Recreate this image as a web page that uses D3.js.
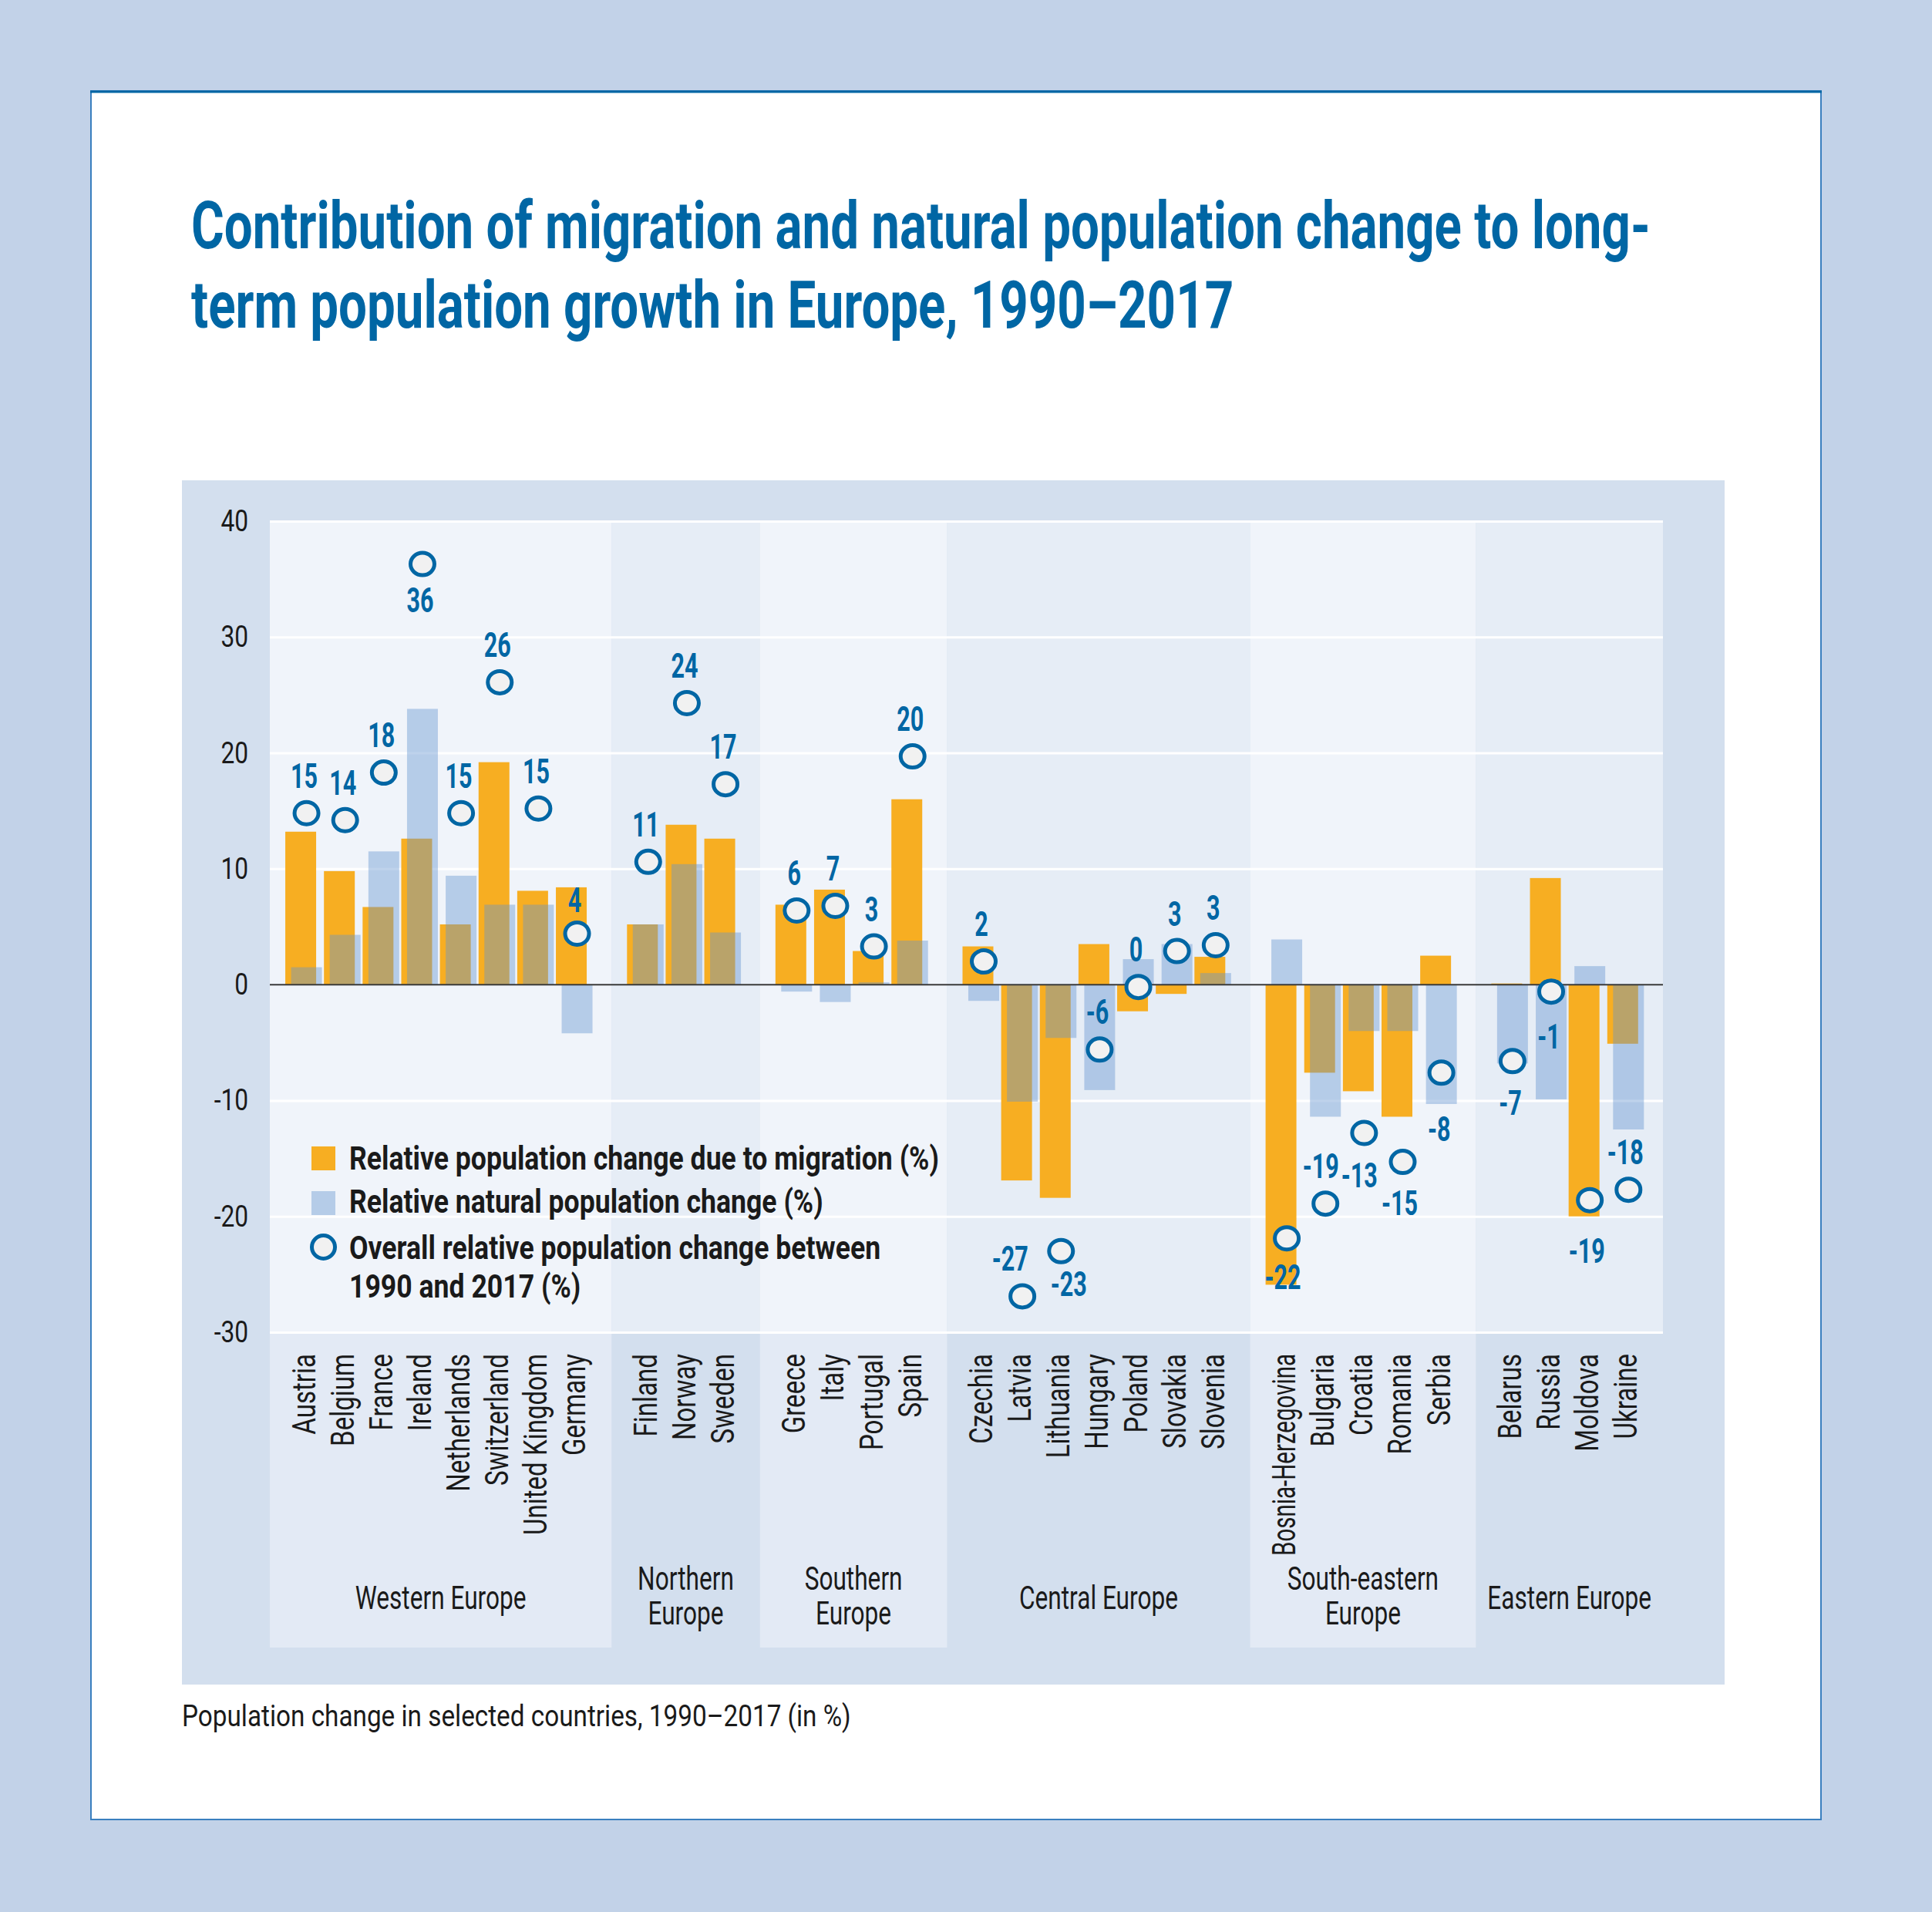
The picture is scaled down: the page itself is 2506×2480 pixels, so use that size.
<!DOCTYPE html>
<html><head><meta charset="utf-8">
<script src="https://cdn.jsdelivr.net/npm/d3@7"></script>
<style>
html,body{margin:0;padding:0;background:#C2D2E8;}
svg{display:block;}
</style></head><body>
<svg id="chart" width="2506" height="2480"></svg>
<script>
// ---------------- DATA ----------------
const groups = ["Western Europe","Northern Europe","Southern Europe","Central Europe","South-eastern Europe","Eastern Europe"];
const groupLabelLines = [["Western Europe"],["Northern","Europe"],["Southern","Europe"],["Central Europe"],["South-eastern","Europe"],["Eastern Europe"]];
const countries = ["Austria","Belgium","France","Ireland","Netherlands","Switzerland","United Kingdom","Germany",
  "Finland","Norway","Sweden",
  "Greece","Italy","Portugal","Spain",
  "Czechia","Latvia","Lithuania","Hungary","Poland","Slovakia","Slovenia",
  "Bosnia-Herzegovina","Bulgaria","Croatia","Romania","Serbia",
  "Belarus","Russia","Moldova","Ukraine"];
const countryGroup = [0,0,0,0,0,0,0,0, 1,1,1, 2,2,2,2, 3,3,3,3,3,3,3, 4,4,4,4,4, 5,5,5,5];
// Relative population change due to migration (%)
const migration = [13.2,9.8,6.7,12.6,5.2,19.2,8.1,8.4, 5.2,13.8,12.6, 6.9,8.2,2.9,16.0,
  3.3,-16.9,-18.4,3.5,-2.3,-0.8,2.4, -25.9,-7.6,-9.2,-11.4,2.5, 0.1,9.2,-20.0,-5.1];
// Relative natural population change (%)
const natural = [1.5,4.3,11.5,23.8,9.4,6.9,6.9,-4.2, 5.2,10.4,4.5, -0.6,-1.5,0.2,3.8,
  -1.4,-10.1,-4.6,-9.1,2.2,3.5,1.0, 3.9,-11.4,-4.0,-4.0,-10.3, -6.8,-9.9,1.6,-12.5];
// Overall relative population change 1990-2017 (%)
const overall = [14.8,14.2,18.3,36.3,14.8,26.1,15.2,4.4, 10.6,24.3,17.3, 6.4,6.8,3.3,19.7,
  2.0,-26.9,-23.0,-5.6,-0.2,2.9,3.4, -21.9,-18.9,-12.8,-15.3,-7.6, -6.6,-0.6,-18.6,-17.7];
const yTicks = [40,30,20,10,0,-10,-20,-30];
const titleLines = ["Contribution of migration and natural population change to long-","term population growth in Europe, 1990\u20132017"];
const legendItems = ["Relative population change due to migration (%)","Relative natural population change (%)"];
const legendCircleLines = ["Overall relative population change between","1990 and 2017 (%)"];
const caption = "Population change in selected countries, 1990\u20132017 (in %)";

// label placement (layout only): dx/dy of label baseline from circle centre
const labelPlacement = {
  "Ireland":{dy:62},"Germany":{dy:-28},"Latvia":{dx:-16},"Lithuania":{dx:10,dy:58},
  "Bosnia-Herzegovina":{dx:-5,dy:66},"Bulgaria":{dx:-6},"Croatia":{dx:-6,dy:70},
  "Romania":{dx:-4,dy:69},"Serbia":{dy:89},"Belarus":{dy:70},"Russia":{dy:74},
  "Moldova":{dx:-4,dy:81},"Ukraine":{dx:-4}
};
// individual length fits for rotated labels (layout only)
const countryLabelFit = {"Bosnia-Herzegovina":262};

// ---------------- STYLE ----------------
const FONT = "Roboto, 'Open Sans', 'Liberation Sans', sans-serif";
const ORANGE = "#F7AE22", BLUE = "#6494D0", BLUE_OP = 0.42, DARKBLUE = "#0066A4", INK = "#1A1A1A";
const plot = {left:350, right:2157, top:676, bottom:1728, labelBottom:2137};

const svg = d3.select("#chart");

function measure(str, size, weight){
  const t = svg.append("text").style("font-family",FONT).style("font-size",size+"px").style("font-weight",weight).text(str);
  const w = t.node().getComputedTextLength(); t.remove(); return w;
}
function ctext(sel, str, x, y, o){
  const g = sel.append("g").attr("transform",`translate(${x},${y})${o.rotate?` rotate(${o.rotate})`:""} scale(${o.k},1)`);
  g.append("text").attr("text-anchor",o.anchor||"start").attr("dy",o.dy||0)
    .style("font-family",FONT).style("font-size",o.size+"px").style("font-weight",o.weight||400)
    .attr("fill",o.fill||INK).text(str);
  return g;
}

// card
svg.append("rect").attr("x",118).attr("y",118).attr("width",2244).attr("height",2242)
  .attr("fill","#fff").attr("stroke","#3A7FBF").attr("stroke-width",2);
svg.append("line").attr("x1",117).attr("x2",2363).attr("y1",119).attr("y2",119).attr("stroke",DARKBLUE).attr("stroke-width",3);

// title
const kTitle = 1893/measure(titleLines[0],86,700);
titleLines.forEach((t,i)=>ctext(svg,t,248,322+i*103,{size:86,weight:700,k:kTitle,fill:DARKBLUE}));

// panel
svg.append("rect").attr("x",236).attr("y",623).attr("width",2001).attr("height",1562).attr("fill","#D3DFEE");

// scales
const y = d3.scaleLinear().domain([-30,40]).range([plot.bottom,plot.top]);
const PAD = 0.42;
const groupCounts = groups.map((g,i)=>countryGroup.filter(c=>c===i).length);
const units = groupCounts.map(n=>n+2*PAD);
const cum = [0,...d3.cumsum(units)];
const gx = d3.scaleLinear().domain([0,d3.sum(units)]).range([plot.left,plot.right]);
const bands = groups.map((g,i)=>d3.scaleBand()
  .domain(countries.filter((c,j)=>countryGroup[j]===i))
  .range([gx(cum[i]),gx(cum[i+1])]).paddingOuter(PAD).paddingInner(0));

const data = countries.map((c,i)=>({c,g:countryGroup[i],m:migration[i],n:natural[i],o:overall[i]}));
const slot = d=>bands[d.g](d.c);

// column backgrounds
const bg = svg.append("g");
groups.forEach((g,i)=>{
  bg.append("rect").attr("x",gx(cum[i])).attr("width",gx(cum[i+1])-gx(cum[i]))
    .attr("y",plot.top).attr("height",plot.bottom-plot.top).attr("fill",i%2===0?"#F0F4FA":"#E6EDF6");
  if(i%2===0) bg.append("rect").attr("x",gx(cum[i])).attr("width",gx(cum[i+1])-gx(cum[i]))
    .attr("y",plot.bottom).attr("height",plot.labelBottom-plot.bottom).attr("fill","#E3EAF5");
});

// y axis with gridlines
const kTick = 35.6/measure("40",39,400);
const ag = svg.append("g").attr("transform",`translate(${plot.left},0)`)
  .call(d3.axisLeft(y).tickValues(yTicks).tickSize(-(plot.right-plot.left)).tickPadding(28).tickFormat(d=>String(d)));
ag.select(".domain").remove();
ag.selectAll(".tick line").attr("stroke",d=>d===0?"none":"#FFFFFF").attr("stroke-width",3);
ag.selectAll(".tick text").attr("fill",INK).style("font-family",FONT).style("font-size","39px")
  .attr("x",-28/kTick).attr("transform",`scale(${kTick},1)`);

// bars
const barG = svg.append("g");
barG.selectAll("rect.mig").data(data).join("rect").attr("class","mig")
  .attr("x",d=>slot(d)-1).attr("width",40)
  .attr("y",d=>y(Math.max(0,d.m))).attr("height",d=>Math.abs(y(d.m)-y(0))).attr("fill",ORANGE);
barG.selectAll("rect.nat").data(data).join("rect").attr("class","nat")
  .attr("x",d=>slot(d)+6.5).attr("width",40)
  .attr("y",d=>y(Math.max(0,d.n))).attr("height",d=>Math.abs(y(d.n)-y(0)))
  .attr("fill",BLUE).attr("fill-opacity",BLUE_OP);

// zero line
svg.append("line").attr("x1",plot.left).attr("x2",plot.right).attr("y1",y(0)).attr("y2",y(0))
  .attr("stroke","#3A3A3A").attr("stroke-width",2);

// circles
svg.append("g").selectAll("ellipse").data(data).join("ellipse")
  .attr("cx",d=>slot(d)+26.5).attr("cy",d=>y(d.o)).attr("rx",15.5).attr("ry",14.5)
  .attr("fill","#F1F1F1").attr("stroke",DARKBLUE).attr("stroke-width",5);

// value labels
const kVal = 35/measure("15",44,700);
const lblG = svg.append("g");
data.forEach(d=>{
  const p = labelPlacement[d.c]||{};
  const dx = p.dx!==undefined?p.dx:-3, dy = p.dy!==undefined?p.dy:-33;
  ctext(lblG,String(Math.round(d.o)),slot(d)+26.5+dx,y(d.o)+dy,{size:44,weight:700,k:kVal,fill:DARKBLUE,anchor:"middle"});
});

// country labels
const kCountry = 235/measure("United Kingdom",42,400);
data.forEach(d=>{
  const k = countryLabelFit[d.c] ? countryLabelFit[d.c]/measure(d.c,42,400) : kCountry;
  ctext(svg,d.c,slot(d)+22.75,1756,{size:42,k:k,rotate:-90,anchor:"end",dy:"0.35em"});
});

// group labels
const kRegion = 222/measure("Western Europe",42,400);
groups.forEach((g,i)=>{
  const cx=(gx(cum[i])+gx(cum[i+1]))/2, lines=groupLabelLines[i];
  lines.forEach((l,j)=>{
    const by = lines.length===1?2087:2062+j*45;
    ctext(svg,l,cx,by,{size:42,k:kRegion,anchor:"middle"});
  });
});

// legend
const kLeg = 765/measure(legendItems[0],43,700);
const leg = svg.append("g");
leg.append("rect").attr("x",404).attr("y",1487).attr("width",31).attr("height",31).attr("fill",ORANGE);
leg.append("rect").attr("x",404).attr("y",1545).attr("width",31).attr("height",31).attr("fill",BLUE).attr("fill-opacity",BLUE_OP);
leg.append("ellipse").attr("cx",419.5).attr("cy",1617.5).attr("rx",15).attr("ry",15).attr("fill","#F1F1F1").attr("stroke",DARKBLUE).attr("stroke-width",5);
ctext(leg,legendItems[0],453,1517,{size:43,weight:700,k:kLeg});
ctext(leg,legendItems[1],453,1573,{size:43,weight:700,k:kLeg});
ctext(leg,legendCircleLines[0],453,1633,{size:43,weight:700,k:kLeg});
ctext(leg,legendCircleLines[1],453,1683,{size:43,weight:700,k:kLeg});

// caption
const kCap = 868/measure(caption,39,400);
ctext(svg,caption,236,2239,{size:39,k:kCap});
</script>
</body></html>
